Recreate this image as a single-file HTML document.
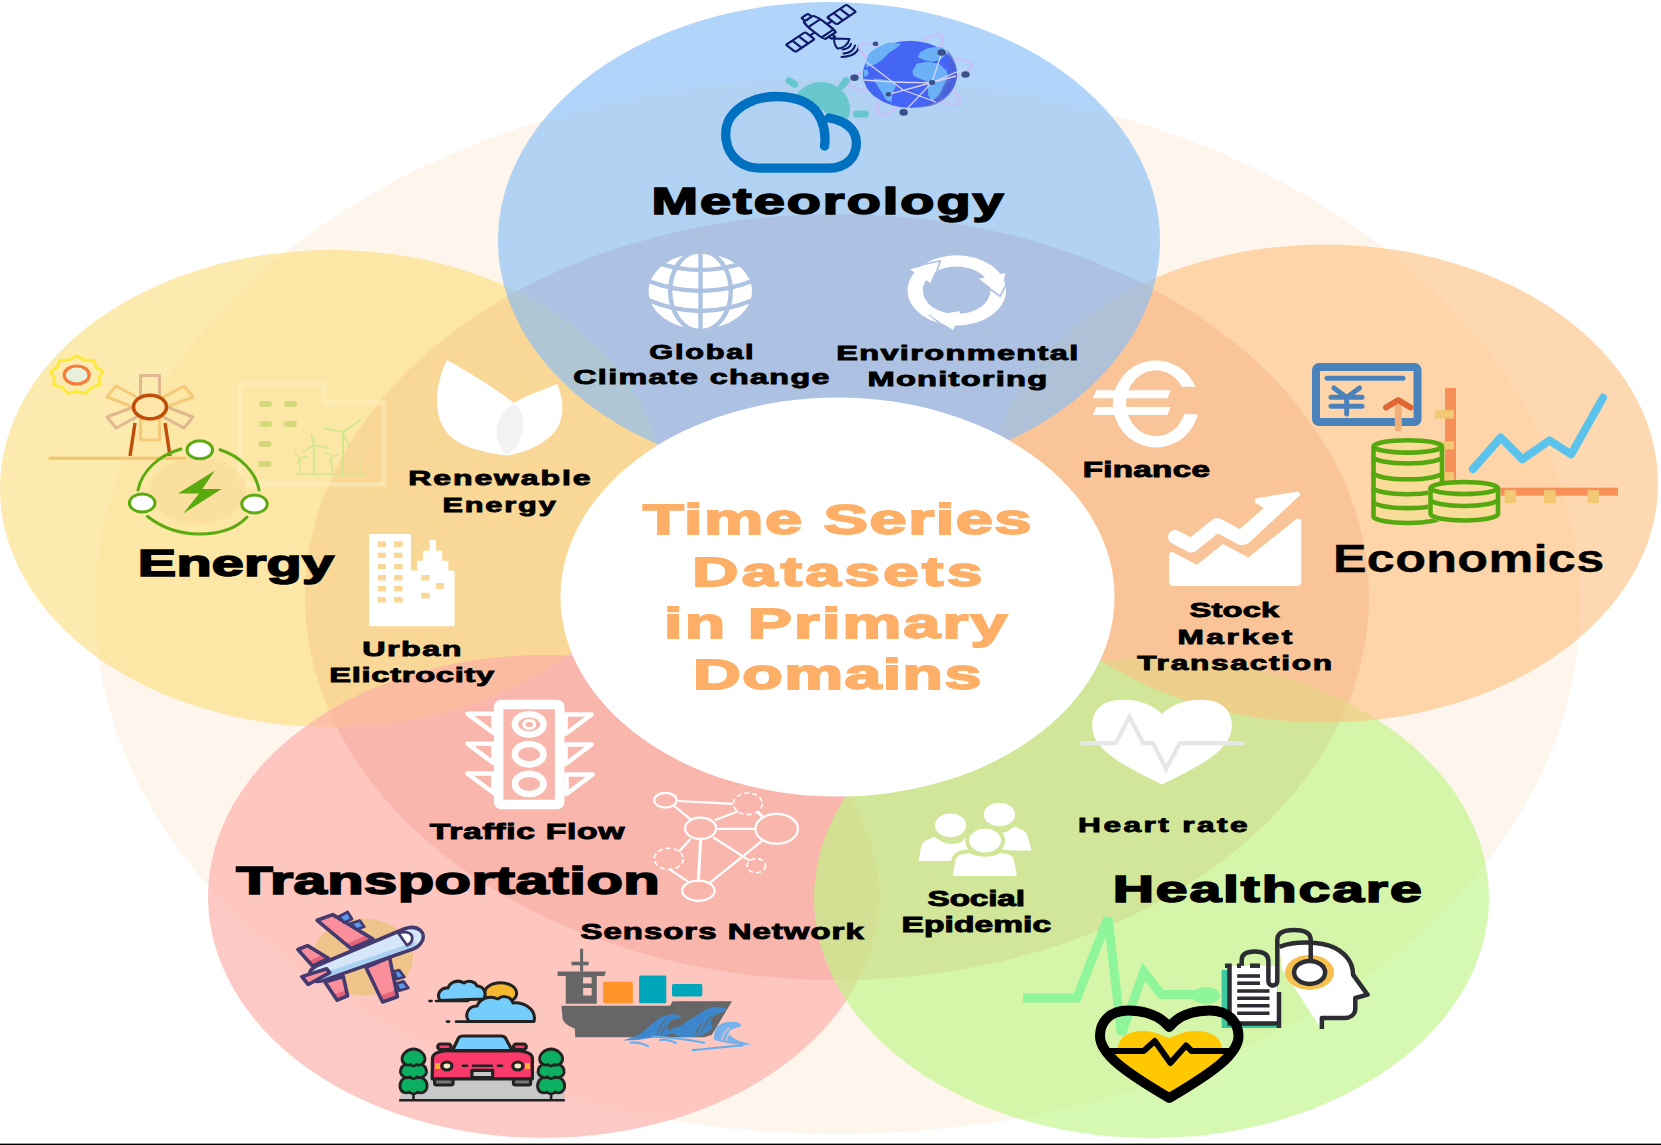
<!DOCTYPE html>
<html><head><meta charset="utf-8">
<style>
html,body{margin:0;padding:0;background:#fff;width:1661px;height:1145px;overflow:hidden}
svg{display:block}
text{font-family:"Liberation Sans",sans-serif;font-weight:bold}
</style></head>
<body>
<svg width="1661" height="1145" viewBox="0 0 1661 1145">
<rect width="1661" height="1145" fill="#fff"/>
<ellipse cx="837.5" cy="605.5" rx="742.5" ry="528.5" fill="#FEF5EC"/>
<ellipse cx="837" cy="597" rx="532" ry="383" fill="#F2C9BB"/>
<g>
<ellipse cx="331" cy="488.5" rx="331" ry="238.5" fill="#FCDF82" fill-opacity="0.65"/>
<ellipse cx="543.5" cy="896.5" rx="335.5" ry="241.5" fill="#FCACA6" fill-opacity="0.65"/>
<ellipse cx="1151.5" cy="898" rx="337.5" ry="240" fill="#BEF686" fill-opacity="0.65"/>
<ellipse cx="1325" cy="483.5" rx="333" ry="239" fill="#FCC386" fill-opacity="0.65"/>
<ellipse cx="829" cy="240.4" rx="331" ry="238.4" fill="#87BEF7" fill-opacity="0.65"/>
</g>
<ellipse cx="837.5" cy="597" rx="277" ry="199.5" fill="#fff"/>

<g id="met-icons">
<!-- satellite -->
<g transform="translate(820.9,28.3) scale(1.4,1) rotate(-43)" fill="none" stroke="#0F1A6B" stroke-width="1.9" stroke-linejoin="round">
  <rect x="-29.5" y="-4.9" width="18.7" height="9.8" rx="1.2"/>
  <line x1="-23.3" y1="-4.9" x2="-23.3" y2="4.9"/><line x1="-17" y1="-4.9" x2="-17" y2="4.9"/>
  <rect x="10.8" y="-4.9" width="18.7" height="9.8" rx="1.2"/>
  <line x1="17" y1="-4.9" x2="17" y2="4.9"/><line x1="23.3" y1="-4.9" x2="23.3" y2="4.9"/>
  <line x1="-10.8" y1="0" x2="-6" y2="0"/><line x1="6" y1="0" x2="10.8" y2="0"/>
  <rect x="-6" y="-7" width="12" height="14" rx="1.5"/>
  <path d="M-6,-7 L-5,-11.5 C-5,-12.5 -4.5,-13 -3.5,-13 L3.5,-13 C4.5,-13 5,-12.5 5,-11.5 L6,-7"/>
  <rect x="-3.2" y="-17" width="6.4" height="4" rx="1.2"/>
  <path d="M-6,7 L-5,10 L5,10 L6,7"/>
  <path d="M-2,10 L-1.5,13 L1.5,13 L2,10"/>
</g>
<g fill="none" stroke="#0F1A6B" stroke-width="2" stroke-linecap="round" stroke-linejoin="round">
  <path d="M834,38.5 L849.5,39 C848,45 843,48.5 837.5,48.5 C835,46 834,42.5 834,38.5 Z"/>
  <path d="M842.5,49.5 C847,49 850,47 851,44"/>
  <path d="M843.5,53.5 C850,53 854,50 855,45.5"/>
  <path d="M841.5,57 C852,56.5 858,53 859,46"/>
</g>
<!-- globe -->
<g>
  <g transform="translate(910,74.3) scale(1.4,1)" fill="none" stroke="#C6C2F7" stroke-width="2.4">
    <ellipse rx="46" ry="11" transform="rotate(40)"/>
    <ellipse rx="45" ry="13" transform="rotate(-12)"/>
    <ellipse rx="45" ry="11" transform="rotate(-62)"/>
  </g>
  <ellipse cx="910" cy="74.3" rx="47" ry="33.6" fill="#4565F5"/>
  <path d="M866.2,61.7 L868.8,53.8 L876.7,47.7 L888.9,42.5 L901.1,43.8 L895.9,48.6 L888.9,53 L881.9,59.9 L876.7,63.4 L871.4,66 L866.2,66.9 Z" fill="#6AB1F6"/>
  <path d="M863.6,70.4 L867,69 L868.8,74 L864.5,77.4 Z" fill="#6AB1F6"/>
  <path d="M873.2,78.3 L894.1,80.9 L895.9,86.1 L892.4,94 L891.5,101.9 L886.3,100.1 L881,91.4 L876.7,84.4 Z" fill="#6AB1F6"/>
  <path d="M917.7,57.3 L920.3,52.1 L927.3,48.6 L936.1,46.8 L943.1,47.7 L946.6,53.8 L940.4,59.9 L931.7,61.7 L923.8,59.9 Z" fill="#6AB1F6"/>
  <path d="M912.5,70.4 L916.9,63.4 L927.3,61.7 L938.7,63.4 L946.6,70.4 L949.2,80.9 L943.9,87.9 L940.4,96.6 L931.7,101.9 L928.2,94.9 L927.3,81.8 L918.6,78.3 L913.4,75.7 Z" fill="#6AB1F6"/>
  <path d="M946.6,49.5 C954,57 957,66 957,74.3 C957,88 948,99 936.1,104 C931,106 925,107.5 918,107.8 C930,104 940,97 943.1,86.1 C948,78 950,70 950,62 C949,57 948,53 946.6,49.5 Z" fill="#4F62D0" opacity="0.75"/>
  <g fill="none" stroke="#D9D4FA" stroke-width="1.3">
    <path d="M866.5,62 L903,90 L936,102"/>
    <path d="M864,80 C890,82 915,83 932,82.5 L956,76"/>
    <path d="M888.5,94.3 L932,82.5"/>
    <path d="M941.7,52.5 L932,82.5 L903.6,112.4"/>
    <path d="M932,82.5 L966,68"/>
  </g>
  <g fill="#3B4F8A">
    <ellipse cx="875.5" cy="43.8" rx="2.8" ry="2.3"/>
    <ellipse cx="854.5" cy="77.8" rx="4.2" ry="3.3"/>
    <ellipse cx="941.7" cy="52.5" rx="4.2" ry="3.3"/>
    <ellipse cx="965.5" cy="74.5" rx="4.2" ry="3.3"/>
    <ellipse cx="903.6" cy="112.4" rx="4.2" ry="3.3"/>
    <ellipse cx="932.1" cy="82.5" rx="3.2" ry="2.5"/>
    <ellipse cx="888.5" cy="94.3" rx="2.8" ry="2.2"/>
  </g>
</g>
<!-- sun + cloud -->
<defs>
  <mask id="cloudmask" maskUnits="userSpaceOnUse" x="0" y="0" width="1661" height="1145">
    <rect x="0" y="0" width="1661" height="1145" fill="#fff"/>
    <path d="M829,118 C822,104 800,96.5 776,96.5 C755,96.5 738,106 730,118 C723,130 724,150 738,161 C744,166 750,168.2 762,168.2 L828,168.2 C846,168.2 856.4,158 856.4,143 C856.4,129 845,120.5 829,118 Z" fill="#000"/>
  </mask>
</defs>
<g mask="url(#cloudmask)" fill="#67C7CC">
  <ellipse cx="821" cy="109" rx="29" ry="27"/>
  <rect x="785" y="79" width="14" height="7" rx="3.5" transform="rotate(32 792 82.5)"/>
  <rect x="837" y="80" width="14" height="7" rx="3.5" transform="rotate(-50 844 83.5)"/>
  <rect x="853" y="110.5" width="16" height="7" rx="3.5"/>
</g>
<path d="M824.5,146 C827,128 820,110 806,103 C795,97 785,96.5 776,96.5 C755,96.5 738,106 730,118 C723,130 724,150 738,161 C744,166 750,168.2 762,168.2 L828,168.2 C846,168.2 856.4,158 856.4,143 C856.4,129 845,120.5 829,118" fill="none" stroke="#0070C0" stroke-width="9.3" stroke-linecap="round" stroke-linejoin="round"/>
<!-- white globe -->
<g>
  <ellipse cx="700.3" cy="291.2" rx="51.7" ry="37.9" fill="#fff"/>
  <g fill="none" stroke="#AEC2E2" stroke-width="4.4">
    <line x1="700.5" y1="250" x2="700.5" y2="332"/>
    <ellipse cx="700.5" cy="291.2" rx="30.3" ry="40"/>
    <path d="M655,262 Q700.5,278 746,262"/>
    <path d="M646,280 Q700.5,302 755,280"/>
    <path d="M648,300 Q700.5,322 753,300"/>
  </g>
</g>
<!-- recycle arrows -->
<g>
  <ellipse cx="956.8" cy="290.4" rx="49.2" ry="35.1" fill="#fff"/><ellipse cx="956.6" cy="290.3" rx="33.8" ry="23.8" fill="#ADC2E2"/>
  <g stroke="#ADC2E2" stroke-width="1.7" fill="none" stroke-linejoin="miter">
    <polyline points="921,265 940.2,260.8 936.8,271.5"/>
    <polyline points="1007,283 1000.2,296.2 989.5,288.8"/>
    <polyline points="929.5,314.8 940.5,323.5"/>
  </g>
  <g fill="#fff">
    <polygon points="909.9,269.3 938.6,262.6 930.4,282.9"/>
    <polygon points="979,278.8 1005.6,273.1 999.6,294.5"/>
    <polygon points="960.7,311 930.5,316 953.2,330"/>
  </g>
</g>
</g>

<g id="energy-icons">
<!-- sun -->
<g>
  <polygon points="76.7,355.9 84.4,359.9 93.7,360.4 96.2,367.1 102.8,371.8 98.9,378.0 99.6,384.8 91.2,387.7 85.8,393.3 76.7,391.5 67.6,393.3 62.2,387.7 53.8,384.9 54.5,378.0 50.6,371.8 57.2,367.1 59.7,360.4 69.0,359.9" fill="none" stroke="#FBEA3A" stroke-width="3" stroke-linejoin="round"/>
  <ellipse cx="76.7" cy="375" rx="12.5" ry="9" fill="#E7F0D8" stroke="#F77C3A" stroke-width="3.2"/>
</g>
<!-- windmill -->
<g fill="none" stroke-width="3" stroke-linejoin="round">
  <rect x="140.5" y="375.5" width="19" height="20" stroke="#E0B78F"/>
  <rect x="140.5" y="419" width="19" height="21" stroke="#F4C978"/>
  <polygon points="107,397 116,386 142,400 136,408" stroke="#F4C978"/>
  <polygon points="107,417 116,428 142,414 136,406" stroke="#E0B78F"/>
  <polygon points="193,397 184,386 158,400 164,408" stroke="#F4C978"/>
  <polygon points="193,417 184,428 158,414 164,406" stroke="#E0B78F"/>
  <line x1="135" y1="423" x2="130" y2="456" stroke="#C04E0A" stroke-width="3.4"/>
  <line x1="165" y1="423" x2="170" y2="456" stroke="#C04E0A" stroke-width="3.4"/>
  <ellipse cx="150" cy="407" rx="16.5" ry="11.8" fill="#FDE6A8" stroke="#C04E0A" stroke-width="3.6"/>
</g>
<line x1="50" y1="458.2" x2="186" y2="458.2" stroke="#F5C46A" stroke-width="3" stroke-linecap="round"/>
<!-- faint building -->
<g opacity="0.55">
  <path d="M240,384.5 L324.5,384.5 L324.5,402.5 L384,402.5 L384,484.5 L240,484.5 Z" fill="none" stroke="#FDF0C0" stroke-width="4.5"/>
</g>
<g fill="#D5D87A">
  <rect x="259" y="401" width="13" height="6" rx="3"/><rect x="284" y="401" width="13" height="6" rx="3"/>
  <rect x="259" y="421" width="13" height="6" rx="3"/><rect x="284" y="421" width="13" height="6" rx="3"/>
  <rect x="258.5" y="441" width="13" height="6" rx="3"/>
  <rect x="258.5" y="461" width="13" height="6" rx="3"/>
</g>
<g stroke="#CFE68A" fill="none" stroke-width="1.5" opacity="0.9">
  <line x1="295" y1="474" x2="366" y2="474"/>
  <line x1="314" y1="445" x2="314" y2="474" stroke-width="2"/>
  <path d="M314,445 L311,434 M314,445 L303,452 M314,445 L329,448" stroke-width="1.8"/>
  <line x1="343" y1="432" x2="343" y2="474" stroke-width="2.2"/>
  <path d="M343,432 L323,428 M343,432 L361,420 M343,432 L349,447" stroke-width="2"/>
  <line x1="300" y1="458" x2="300" y2="474"/>
  <path d="M300,458 L294,453 M300,458 L307,456 M300,458 L297,465"/>
  <line x1="332" y1="456" x2="332" y2="474"/>
  <path d="M332,456 L326,452 M332,456 L339,455 M332,456 L329,463"/>
  <line x1="361" y1="458" x2="361" y2="474" opacity="0.6"/>
</g>
<!-- green circuit -->
<ellipse cx="198" cy="490.8" rx="48" ry="33.6" fill="#FADD9E" opacity="0.8"/>
<g fill="none" stroke="#5BAA0F" stroke-width="3" stroke-linecap="round">
  <path d="M181,449 C160,455 142,470 138,490"/>
  <path d="M220,449.8 C240,456 256,472 259,490"/>
  <path d="M147.5,516.5 C165,530 182,534 199,534 C218,534 236,529 247,517"/>
</g>
<g fill="#fff" stroke="#5BAA0F" stroke-width="3">
  <ellipse cx="199.8" cy="449.8" rx="12.8" ry="9"/>
  <ellipse cx="142.2" cy="503" rx="12.8" ry="9"/>
  <ellipse cx="254.5" cy="504" rx="12.8" ry="9"/>
</g>
<polygon points="214.7,470.8 178,493.5 199,493.5 183.2,513.6 221.7,489.1 202.4,489.1" fill="#5AA90F"/>
<!-- leaf -->
<g>
  <path d="M447,360 C470,373 495,388 514,403 C530,415 528,440 507,455.5 C480,452 452,446 442,425 C433,405 437,380 447,360 Z" fill="#fff"/>
  <path d="M557,384 C540,391 525,396 514,403 C490,420 490,440 507,455.5 C530,452 552,440 559,425 C565,410 562,395 557,384 Z" fill="#fff"/>
  <path d="M514,403 C528,414 527,440 507,455.5 C492,440 492,418 514,403 Z" fill="#F2F2F2"/>
</g>
<!-- building -->
<path fill="#fff" fill-rule="evenodd" d="M369.1,534.1 L410.9,534.1 L410.9,570.6 L417.2,570.6 L417.2,560.7 L423,560.7 L423,550.7 L429.7,550.7 L429.7,539.9 L436,539.9 L436,550.7 L442.2,550.7 L442.2,560.7 L448.3,560.7 L448.3,570.6 L454.6,570.6 L454.6,626.3 L369.1,626.3 Z
M377.8,541.3 h8.1 v5.6 h-8.1 Z M394.1,541.3 h8.5 v5.6 h-8.5 Z
M377.8,552.7 h8.1 v5.4 h-8.1 Z M394.1,552.7 h8.5 v5.4 h-8.5 Z
M377.8,563.7 h8.1 v5.5 h-8.1 Z M394.1,563.7 h8.5 v5.5 h-8.5 Z
M377.8,575 h8.1 v5.4 h-8.1 Z M394.1,575 h8.5 v5.4 h-8.5 Z
M377.8,586 h8.1 v5.5 h-8.1 Z M394.1,586 h8.5 v5.5 h-8.5 Z
M377.8,597 h8.1 v5.6 h-8.1 Z M394.1,597 h8.5 v5.6 h-8.5 Z
M421.3,575 h8.3 v5.4 h-8.3 Z M435.9,583.1 h8.1 v5.8 h-8.1 Z M421.3,592.7 h8.3 v5.8 h-8.3 Z"/>
</g>

<g id="econ-icons">
<!-- euro -->
<g fill="#fff">
  <path d="M1195.5,386.7 A43,43.5 0 1 0 1197.8,414.2 L1184.3,414.2 A30,33 0 1 1 1182,386.7 Z"/>
  <polygon points="1096.4,390.2 1170.6,390.2 1167.5,398.2 1092.9,398.2"/>
  <polygon points="1096.4,407 1170.6,407 1167.5,415 1092.9,415"/>
</g>
<!-- chart -->
<g fill="#fff">
  <path d="M1169.1,555.1 C1169.5,552 1171,551.5 1173,552.3 L1197,564.8 L1222.9,544.1 L1248.4,557.5 L1296.4,519.1 C1299,518 1301.3,519 1301.3,522 L1301.3,582 C1301.3,584.5 1299,585.9 1296.4,585.9 L1174.4,585.9 C1171,585.9 1169.1,584.5 1169.1,582 Z"/>
  <path d="M1175,537 L1191.5,545.5 L1217,525 L1241.5,538" fill="none" stroke="#fff" stroke-width="14" stroke-linecap="round" stroke-linejoin="round"/>
  <polygon points="1237,531.5 1263.8,508.1 1254.8,502.2 1255.5,498.5 1298,491.5 1300.8,494.5 1248.4,543.2 1244,545"/>
</g>
<!-- finance colour icon -->
<g>
  <rect x="1316" y="367" width="101.5" height="55" rx="3" fill="none" stroke="#4A82BC" stroke-width="8"/>
  <line x1="1327" y1="378.3" x2="1403" y2="378.3" stroke="#4A82BC" stroke-width="5" stroke-linecap="round"/>
  <g stroke="#4A82BC" stroke-width="5" stroke-linecap="round" fill="none">
    <polyline points="1334,388 1346.7,397.5 1359.5,388"/>
    <line x1="1331" y1="397.3" x2="1362" y2="397.3"/>
    <line x1="1331" y1="406.3" x2="1362" y2="406.3"/>
    <line x1="1346.7" y1="397.5" x2="1346.7" y2="414"/>
  </g>
  <line x1="1398.3" y1="404" x2="1398.3" y2="428" stroke="#F0B27A" stroke-width="7" stroke-linecap="round"/>
  <polyline points="1386,407.5 1398.3,400 1410.5,407.5" fill="none" stroke="#E06632" stroke-width="6" stroke-linecap="round" stroke-linejoin="round"/>
  <rect x="1445" y="388" width="11" height="104" fill="#F79058"/>
  <rect x="1456" y="487.7" width="162" height="8" fill="#F79058"/>
  <g fill="#F2C873">
    <rect x="1435" y="410.2" width="19" height="8.4"/>
    <rect x="1435" y="441.4" width="19" height="8"/>
    <rect x="1435" y="472.2" width="19" height="8.4"/>
    <rect x="1504.6" y="490.1" width="11.6" height="13"/>
    <rect x="1544" y="490.1" width="11.7" height="13"/>
    <rect x="1587.5" y="490.1" width="11.5" height="13"/>
  </g>
  <polyline points="1473,469 1500.7,437.5 1522.5,459.3 1549.4,440.4 1571.2,454.3 1603,397.7" fill="none" stroke="#5BC2EC" stroke-width="8" stroke-linecap="round" stroke-linejoin="round"/>
  <!-- tall coin stack -->
  <g stroke="#55A80D" stroke-width="4.6" fill="#F9DB9A">
    <path d="M1373.5,446.4 L1373.5,516.5 A34.2,6.5 0 0 0 1442,516.5 L1442,446.4 Z" stroke="none"/>
    <ellipse cx="1407.7" cy="446.4" rx="34.2" ry="6.2"/>
    <path d="M1373.5,446.4 L1373.5,516.5 A34.2,6.5 0 0 0 1442,516.5 L1442,446.4" fill="none"/>
    <path d="M1373.5,457 A34.2,6.5 0 0 0 1442,457" fill="none"/>
    <path d="M1373.5,472.8 A34.2,6.5 0 0 0 1442,472.8" fill="none"/>
    <path d="M1373.5,487.7 A34.2,6.5 0 0 0 1442,487.7" fill="none"/>
    <path d="M1373.5,501.6 A34.2,6.5 0 0 0 1442,501.6" fill="none"/>
  </g>
  <!-- short stack (with bg halo) -->
  <g stroke="#55A80D" stroke-width="4.6" fill="#F9DB9A">
    <path d="M1430.5,488 L1430.5,514 A33.7,6.5 0 0 0 1498,514 L1498,488 Z" stroke="#FDD2A8" stroke-width="5"/>
    <path d="M1430.5,488 L1430.5,514 A33.7,6.5 0 0 0 1498,514 L1498,488 Z" stroke="none"/>
    <ellipse cx="1464.2" cy="488" rx="33.7" ry="6"/>
    <path d="M1430.5,488 L1430.5,514 A33.7,6.5 0 0 0 1498,514 L1498,488" fill="none"/>
    <path d="M1430.5,499.5 A33.7,6.5 0 0 0 1498,499.5" fill="none"/>
  </g>
</g>
</g>
</g>

<g id="health-icons">
<!-- white heart with pulse -->
<path d="M1162,714 C1148,700 1125,697 1108,702 C1092,708 1089,725 1095,738 C1103,755 1130,769 1162,784.4 C1194,769 1221,755 1229,738 C1235,725 1232,708 1216,702 C1199,697 1176,700 1162,714 Z" fill="#fff"/>
<polyline points="1080.3,743.2 1115.8,743.2 1129.5,716.9 1143.2,743.2 1152.9,743.2 1166.1,768.9 1179.8,743.2 1244.4,743.2" fill="none" stroke="#E6E6E6" stroke-width="4.2" stroke-linejoin="miter"/>
<!-- people -->
<defs>
<mask id="pplmask" maskUnits="userSpaceOnUse" x="900" y="790" width="150" height="100">
  <rect x="900" y="790" width="150" height="100" fill="#fff"/>
  <g fill="#000" stroke="#000" stroke-width="8">
    <ellipse cx="985.1" cy="840.6" rx="16" ry="11.8"/>
    <path d="M952.8,876 L955.6,859.5 C957,855 962,853.5 969.7,853.2 C975,856 980,856.7 985.1,856.7 C990,856.7 995,856 1000,853.2 C1008,853.5 1013,855 1013.8,859.5 L1016.9,876 Z"/>
  </g>
  <g fill="#000" stroke="#000" stroke-width="4">
    <path d="M940,838 C945,841 948,842 950.5,842 C955,842 960,841 963,838"/>
    <path d="M990,827 C994,830 997,831 999.4,831 C1003,831 1007,830 1010,827"/>
  </g>
</mask>
</defs>
<g fill="#fff" mask="url(#pplmask)">
  <ellipse cx="950.5" cy="825.3" rx="15.6" ry="11.9"/>
  <path d="M918.6,861 L921,847 C922,842 926,840 933,837.5 L935,837.5 C940,840.5 945,842 950.5,842 C956,842 961,840.5 966,837.5 C972,840 977,842 979,847 L982,861 Z"/>
  <ellipse cx="999.4" cy="814.5" rx="15.7" ry="11.8"/>
  <path d="M967,850.4 L970,836 C971,831 975,829 982,826.8 L984,826.8 C989,830 994,831 999.4,831 C1005,831 1010,830 1014.5,826.8 C1021,829 1026,831 1027.5,836 L1031.5,850.4 Z"/>
</g>
<ellipse cx="985.1" cy="840.6" rx="16" ry="11.8" fill="#fff"/>
<path d="M952.8,876 L955.6,859.5 C957,855 962,853.5 969.7,853.2 C975,856 980,856.7 985.1,856.7 C990,856.7 995,856 1000,853.2 C1008,853.5 1013,855 1013.8,859.5 L1016.9,876 Z" fill="#fff"/>
<!-- green pulse -->
<g fill="none" stroke="#8EF59A" stroke-width="9" stroke-linejoin="miter">
  <polyline points="1022.9,998 1076.8,998 1108,918 1121.4,1034 1143.7,972 1161.5,994.6 1203.8,994.6"/>
</g>
<ellipse cx="1206" cy="995.5" rx="14" ry="8.5" fill="#8EF59A"/>
<!-- document -->
<rect x="1221.6" y="970" width="55.7" height="58" fill="#3CC8A0"/>
<rect x="1230.5" y="966" width="46.5" height="59" fill="#fff"/>
<g fill="none" stroke="#2B2D33" stroke-width="4.5">
  <polyline points="1225,965.7 1229.5,965.7 1229.5,1023.5 1277,1023.5"/>
  <line x1="1237" y1="965.7" x2="1241" y2="965.7"/>
  <line x1="1279" y1="992" x2="1279" y2="1028"/>
  <line x1="1250" y1="965.7" x2="1260" y2="965.7"/>
</g>
<g stroke="#2B2D33" stroke-width="3.6">
  <line x1="1237.2" y1="976" x2="1260" y2="976"/>
  <line x1="1237.2" y1="983.2" x2="1260" y2="983.2"/>
  <line x1="1237.2" y1="991" x2="1269.5" y2="991"/>
  <line x1="1237.2" y1="998.3" x2="1269.5" y2="998.3"/>
  <line x1="1237.2" y1="1005.8" x2="1269.5" y2="1005.8"/>
  <line x1="1237.2" y1="1013.2" x2="1269.5" y2="1013.2"/>
</g>
<!-- head -->
<path d="M1279.5,946.8 C1295,941 1320,941 1335,948 C1348,955 1353,965 1353,974.6 L1367.5,994.6 L1355.3,998 L1355.3,1009 C1355,1015 1350,1018 1344.2,1018 L1321.9,1018 L1321.9,1028 L1320.8,1028 L1282,969 Z" fill="#fff"/>
<path d="M1279.5,946.8 C1295,941 1320,941 1335,948 C1348,955 1353,965 1353,974.6 L1367.5,994.6 L1355.3,998 L1355.3,1009 C1355,1015 1350,1018 1344.2,1018 L1321.9,1018 L1321.9,1029" fill="none" stroke="#2B2D33" stroke-width="4.5" stroke-linejoin="round"/>
<ellipse cx="1309.6" cy="972.4" rx="24.5" ry="17.5" fill="#F5C050"/>
<ellipse cx="1309.6" cy="972.4" rx="15.5" ry="11.5" fill="#fff" stroke="#2B2D33" stroke-width="4.5"/>
<path d="M1241.7,965.7 L1241.7,960 C1241.7,954 1247,951.5 1255,951.5 C1263,951.5 1268.4,954 1268.4,961 L1268.4,981 C1268.4,987 1277.3,987 1277.3,981 L1277.3,940 C1277.3,933 1284,930 1294,930 C1304,930 1310.7,933 1310.7,940 L1310.7,961" fill="none" stroke="#2B2D33" stroke-width="4.5" stroke-linecap="butt"/>
<!-- black heart -->
<defs><clipPath id="heartclip"><path d="M1169.3,1027 C1160,1016 1145,1010.5 1128,1010.5 C1110,1010.5 1100,1022 1100,1036 C1100,1054 1125,1072 1169.3,1098 C1213.5,1072 1238.5,1054 1238.5,1036 C1238.5,1022 1228,1010.5 1210,1010.5 C1193,1010.5 1178,1016 1169.3,1027 Z"/></clipPath></defs>
<g clip-path="url(#heartclip)" fill="#FFC800">
<rect x="1095" y="1049" width="150" height="60"/>
<path d="M1118,1049 C1118,1038 1128,1031 1143,1031 C1156,1031 1162,1036 1169,1038 C1176,1036 1182,1031 1196,1031 C1211,1031 1222,1038 1222,1049 Z"/>
</g>
<path d="M1169.3,1027 C1160,1016 1145,1010.5 1128,1010.5 C1110,1010.5 1100,1022 1100,1036 C1100,1054 1125,1072 1169.3,1098 C1213.5,1072 1238.5,1054 1238.5,1036 C1238.5,1022 1228,1010.5 1210,1010.5 C1193,1010.5 1178,1016 1169.3,1027 Z" fill="none" stroke="#000" stroke-width="10" stroke-linejoin="round"/>
<polyline points="1109,1051 1143.7,1051 1154.8,1041 1170.4,1063 1186,1045.5 1191.6,1051 1230.5,1051" fill="none" stroke="#000" stroke-width="6" stroke-linejoin="round" stroke-linecap="round"/>
</g>

<g id="transport-icons">
<!-- traffic light -->
<g fill="none" stroke="#fff">
  <rect x="498.7" y="704.5" width="61" height="100" rx="2.5" stroke-width="9.5"/>
  <ellipse cx="529.2" cy="724.4" rx="14.3" ry="10.2" stroke-width="6.5"/>
  <ellipse cx="529.2" cy="724.4" rx="5.4" ry="4" stroke-width="3"/>
  <ellipse cx="529.2" cy="754.2" rx="14.3" ry="10.2" stroke-width="6.5"/>
  <ellipse cx="529.2" cy="783.9" rx="14.3" ry="10.2" stroke-width="6.5"/>
  <g stroke-width="4.6" stroke-linejoin="round">
    <polygon points="467.5,713.7 493.5,713.7 493.5,733"/>
    <polygon points="467.5,743.7 493.5,743.7 493.5,763"/>
    <polygon points="467.5,773.5 493.5,773.5 493.5,793"/>
    <polygon points="591.5,714.5 565.5,714.5 565.5,734"/>
    <polygon points="591.5,744.5 565.5,744.5 565.5,764"/>
    <polygon points="592.5,774.5 566.5,774.5 566.5,794"/>
  </g>
</g>
<!-- network -->
<g fill="none" stroke="#fff" stroke-width="2.2">
  <line x1="677.9" y1="801" x2="732.4" y2="803.8"/>
  <line x1="673.4" y1="805.5" x2="690.4" y2="819.2"/>
  <line x1="714.8" y1="820.3" x2="738.1" y2="811.2"/>
  <line x1="757.4" y1="811.8" x2="762.5" y2="816.3" stroke-width="3"/>
  <line x1="717.7" y1="828.8" x2="754.6" y2="828.8"/>
  <line x1="690.4" y1="839" x2="679.1" y2="851.5"/>
  <line x1="700.6" y1="840.2" x2="698.4" y2="879.9" stroke-width="3"/>
  <line x1="713.1" y1="837.3" x2="749.5" y2="860.6"/>
  <line x1="762" y1="840.8" x2="709.7" y2="882.8"/>
  <line x1="670" y1="869.7" x2="688.2" y2="881.6"/>
  <ellipse cx="665.4" cy="800.2" rx="11.2" ry="7.4"/>
  <ellipse cx="700.6" cy="828.3" rx="15.6" ry="10.6"/>
  <ellipse cx="776.7" cy="828.8" rx="21.3" ry="14.9"/>
  <ellipse cx="698.4" cy="890.7" rx="16.2" ry="10.1"/>
  <g stroke-dasharray="5 3" stroke-width="1.6">
    <ellipse cx="747.8" cy="803.8" rx="14.5" ry="10.8"/>
    <ellipse cx="668.8" cy="858.9" rx="14.5" ry="10.6"/>
    <ellipse cx="756.3" cy="865.7" rx="9.2" ry="7"/>
  </g>
</g>
<!-- plane -->
<ellipse cx="363" cy="957" rx="50" ry="38.5" fill="#EFC48A"/>
<g fill="#FA8F9B">
  <polygon points="317.1,920.3 332.8,914.6 373,939.1 351.1,948.7"/>
  <polygon points="366,967.4 389.6,957.4 397.4,996.7 382.6,1002"/>
  <polygon points="297.9,949.5 307.5,945.6 328.4,958.3 312.7,966.1"/>
  <polygon points="324.9,981.9 343.3,976.6 347.6,995.8 337.2,1000.2"/>
</g>
<g fill="#E5647A">
  <polygon points="347.5,943.5 367.5,934.8 373,939.1 351.1,948.7"/>
  <polygon points="309,961 324,954 328.4,958.3 312.7,966.1"/>
  <polygon points="380,995.5 396,990 397.4,996.7 382.6,1002"/>
  <polygon points="335,994.5 346.3,990 347.6,995.8 337.2,1000.2"/>
</g>
<g stroke="#453A70" stroke-width="3.6" stroke-linejoin="round" fill="none">
  <polygon points="317.1,920.3 332.8,914.6 373,939.1 351.1,948.7"/>
  <polygon points="366,967.4 389.6,957.4 397.4,996.7 382.6,1002"/>
  <polygon points="297.9,949.5 307.5,945.6 328.4,958.3 312.7,966.1"/>
  <polygon points="324.9,981.9 343.3,976.6 347.6,995.8 337.2,1000.2"/>
</g>
<g stroke="#453A70" stroke-width="3.6" stroke-linejoin="round">
  <polygon points="338.9,916.4 347.6,912 352,919 344.1,922.5" fill="#5C9CF0" stroke-width="2.8"/>
  <polygon points="351.1,923.3 359.9,920.7 364.2,926.8 356.4,929.5" fill="#5C9CF0" stroke-width="2.8"/>
  <polygon points="394.4,971.4 399.2,970.1 404.4,977 396.6,979.2" fill="#5C9CF0" stroke-width="2.8"/>
  <polygon points="396.6,983.6 403.5,981.4 408.3,988 399.2,990.6" fill="#5C9CF0" stroke-width="2.8"/>
  <path d="M316,966 L404,929 C418,924 428,933 421,943 C419,946 416,948 413,949 L321,981 C312,983 307,976 311,970 Z" fill="#D4E6F7"/>
  <path d="M414,946.5 L321,979.5 C316,981 313,979 312,977 L416,941.5 Z" fill="#A8D0F0" stroke="none"/>
  <path d="M398.3,933 C404,931 410,932 412,936 C413,941 410,944 407,945.2 Z" fill="#fff" stroke-width="2.8"/>
  <polygon points="301.8,976.6 326.7,968.8 329.7,972.7 308.3,984.5" fill="#FA8F9B"/>
</g>
<!-- clouds + sun -->
<g stroke="#222" stroke-width="3" stroke-linejoin="round">
  <ellipse cx="500.6" cy="993.2" rx="16" ry="10.5" fill="#F7B731"/>
  <path d="M440,1000.5 C436,994 441,987 448,988 C450,982 458,979 464,983 C468,980 475,981 477,986 C483,986 487,992 484,999 Z" fill="#74CDFB"/>
  <path d="M469,1021.5 C464,1015 468,1006 477,1006 C480,998 490,995 498,999 C502,995 511,996 513,1003 C522,1002 537,1008 534,1021.5 Z" fill="#74CDFB"/>
</g>
<g stroke="#222" stroke-width="2.6" stroke-linecap="round">
  <line x1="429.5" y1="1001" x2="431.5" y2="1001"/>
  <line x1="436" y1="1001" x2="468" y2="1001"/>
  <line x1="447" y1="1021.6" x2="449" y2="1021.6"/>
  <line x1="456" y1="1021.6" x2="470" y2="1021.6"/>
</g>
<!-- car -->
<rect x="400.4" y="1071.5" width="163.8" height="28" fill="#C8C8C8"/>
<line x1="399.2" y1="1100.2" x2="564.8" y2="1100.2" stroke="#222" stroke-width="2.6"/>
<g stroke="#222" stroke-width="3.2" stroke-linejoin="round">
  <rect x="434.6" y="1075" width="18.4" height="10" rx="2" fill="#777"/>
  <rect x="513.5" y="1075" width="17.1" height="10" rx="2" fill="#777"/>
  <rect x="437.7" y="1044" width="13.4" height="5.5" rx="2.7" fill="#FA3A6A"/>
  <rect x="513.5" y="1044" width="12.8" height="5.5" rx="2.7" fill="#FA3A6A"/>
  <path d="M432.5,1058 C433,1053 440,1050.7 452,1050.7 L512,1050.7 C524,1050.7 532,1053 532.4,1058 L532.4,1078.8 L432.2,1078.8 Z" fill="#FA3A6A"/>
  <path d="M452.4,1050.7 L458.5,1038 C459.5,1036.5 461,1036 463,1036 L501,1036 C503,1036 504.5,1036.5 505.5,1038 L512.3,1050.7 Z" fill="#74CDFB"/>
  <rect x="471.9" y="1070.3" width="20.8" height="7.3" fill="#C8C8C8"/>
  <ellipse cx="446.9" cy="1066" rx="5" ry="4" fill="#FCEBC0"/>
  <ellipse cx="517.8" cy="1066" rx="5" ry="4" fill="#FCEBC0"/>
</g>
<g fill="#F7B731"><rect x="435" y="1063" width="5" height="6"/><rect x="525" y="1063" width="5" height="6"/></g>
<g stroke="#222" stroke-width="2.6" stroke-linecap="round"><line x1="463" y1="1065.8" x2="467" y2="1065.8"/><line x1="473" y1="1065.8" x2="492" y2="1065.8"/><line x1="498" y1="1065.8" x2="502" y2="1065.8"/></g>
<line x1="413.5" y1="1090" x2="413.5" y2="1099" stroke="#222" stroke-width="2.6"/>
<g stroke="#222" stroke-width="2.8" fill="#0CAF60">
  <path d="M400.0,1087 C399.5,1081 403.5,1077 408.5,1077.5 C410.5,1075 416.5,1075 418.5,1077.5 C423.5,1077 427.5,1081 427.0,1087 C426.5,1092 421.5,1094 417.5,1092 C415.5,1094.5 411.5,1094.5 409.5,1092 C405.5,1094 400.5,1092 400.0,1087 Z"/>
  <path d="M400.5,1072.5 C400.0,1067 404.5,1063.5 409.0,1064 C411.0,1062 416.0,1062 418.0,1064 C422.5,1063.5 427.0,1067 426.5,1072.5 C425.5,1077 420.5,1078.5 417.0,1077 C415.0,1079 412.0,1079 410.0,1077 C406.5,1078.5 401.5,1077 400.5,1072.5 Z"/>
  <path d="M402.0,1059.5 C401.5,1054 407.5,1049 413.5,1049 C419.5,1049 425.5,1054 425.0,1059.5 C424.5,1064 419.5,1066 416.5,1064.5 C415.0,1066.5 412.0,1066.5 410.5,1064.5 C407.5,1066 402.5,1064 402.0,1059.5 Z"/>
</g>
<line x1="551.1" y1="1090" x2="551.1" y2="1099" stroke="#222" stroke-width="2.6"/>
<g stroke="#222" stroke-width="2.8" fill="#0CAF60">
  <path d="M537.6,1087 C537.1,1081 541.1,1077 546.1,1077.5 C548.1,1075 554.1,1075 556.1,1077.5 C561.1,1077 565.1,1081 564.6,1087 C564.1,1092 559.1,1094 555.1,1092 C553.1,1094.5 549.1,1094.5 547.1,1092 C543.1,1094 538.1,1092 537.6,1087 Z"/>
  <path d="M538.1,1072.5 C537.6,1067 542.1,1063.5 546.6,1064 C548.6,1062 553.6,1062 555.6,1064 C560.1,1063.5 564.6,1067 564.1,1072.5 C563.1,1077 558.1,1078.5 554.6,1077 C552.6,1079 549.6,1079 547.6,1077 C544.1,1078.5 539.1,1077 538.1,1072.5 Z"/>
  <path d="M539.6,1059.5 C539.1,1054 545.1,1049 551.1,1049 C557.1,1049 563.1,1054 562.6,1059.5 C562.1,1064 557.1,1066 554.1,1064.5 C552.6,1066.5 549.6,1066.5 548.1,1064.5 C545.1,1066 540.1,1064 539.6,1059.5 Z"/>
</g>
<!-- ship -->
<g fill="#666">
  <path d="M561.4,1005.7 L670.1,1005.7 L672.6,1001.3 L732,1001.3 L711.8,1034.8 L704.2,1037.3 L575.3,1037.3 L574.7,1028.5 C568,1026 563,1022 562.6,1018.4 Z"/>
  <path fill-rule="evenodd" d="M565.8,976 L565.8,1003.8 L596.8,1003.8 L596.8,976 L604.4,976 L606,971.6 L557.6,971.6 L557.6,976 Z M583.1,977.3 h8.6 v6.3 h-8.6 Z M583.1,988 h8.6 v7.6 h-8.6 Z"/>
  <rect x="580.1" y="948.8" width="3" height="23"/>
  <rect x="571.5" y="961.7" width="17.1" height="3.6"/>
</g>
<rect x="603.1" y="981.7" width="29.7" height="21.5" rx="1.5" fill="#FF9428"/>
<rect x="639.1" y="975.4" width="27.2" height="27.8" rx="1.5" fill="#00A6B9"/>
<rect x="672" y="984" width="30.3" height="12.6" rx="1.5" fill="#00A6B9"/>
<g fill="#3A8AD6" opacity="0.9">
  <path d="M622.9,1040.6 C630,1038 636,1036 641.2,1033.2 C648,1028 652,1023 656.9,1020.1 C661,1017 666,1014.5 670.9,1014.4 C675,1014 679,1014.5 680.5,1016.5 C680,1018.5 678,1019 676.1,1018.8 C672,1019.5 669.5,1021.5 669.1,1023.6 C668,1026 667,1027.5 667.4,1028.8 C669,1031 672,1032 674.4,1032.3 C670,1034 667,1035.5 663.9,1035.8 C655,1037 645,1039 638,1040 Z"/>
  <path d="M670,1030 C672,1028.5 675,1027.5 677.9,1027.1 C684,1024 688,1020 693.6,1017.5 C701,1012 707,1008 715.4,1007 C719,1006.5 724,1007 726.5,1009.6 C725,1012 722,1012.5 719.8,1013.1 C715,1015 712,1017 711.1,1020.1 C710.5,1023 711,1025.5 712.8,1027.9 C709,1031 706,1033 702.3,1034.9 C695,1037 688,1037.5 681.4,1036.7 C676,1036 672,1033 670,1030 Z"/>
  <path d="M713.7,1039.3 C714,1034 715,1029 717.2,1026.2 C722,1023 727,1021.5 732.9,1021.8 C737,1022 740.5,1023 741.3,1025.3 C740,1027.5 737.5,1027.5 735.5,1027.9 C731,1029 729,1031 728.5,1033.2 C730,1036 734,1038.5 737.3,1040.2 C742,1042 747,1043 751.2,1044.5 C745,1045.5 738,1045 730,1043.5 C723,1042 717,1041 713.7,1039.3 Z" fill="#6AB0F2"/>
</g>
<g fill="none" stroke="#666" stroke-width="1.3" stroke-linecap="round" opacity="0.9">
  <path d="M657,1034 C659,1028 662,1023 666,1020"/>
  <path d="M661,1035 C662,1031 664,1027 667,1025"/>
  <path d="M700,1033 C704,1027 707,1021 711,1017"/>
  <path d="M696,1034 C697,1030 699,1026 702,1023"/>
</g>
<g fill="none" stroke="#FFC8C4" stroke-width="1.2" stroke-linecap="round" opacity="0.8">
  <path d="M722,1040 C723,1035 725,1031 729,1028"/>
  <path d="M726,1041 C727,1037 728,1034 731,1032"/>
</g>
<g fill="none" stroke="#62AEF0" stroke-width="2" stroke-linecap="round">
  <path d="M630.7,1042.8 C638,1042 644,1044 648.2,1046.3"/>
  <path d="M652.6,1036.7 C670,1037 690,1040 704.1,1042.8"/>
  <path d="M692.7,1050.2 C710,1049 728,1046 742.5,1045.4"/>
  <path d="M660,1040 C665,1039 672,1041 676,1043"/>
</g>
</g>

<g id="labels"><text transform="translate(651.41,214.34) scale(1.551,1)" font-size="36.0" letter-spacing="1.311" fill="#000" stroke="#000" stroke-width="1.529">Meteorology</text>
<text transform="translate(649.29,358.58) scale(1.5476,1)" font-size="19.85" letter-spacing="1.131" fill="#000" stroke="#000" stroke-width="0.843">Global</text>
<text transform="translate(573.16,384.36) scale(1.5497,1)" font-size="20.81" letter-spacing="0.894" fill="#000" stroke="#000" stroke-width="0.884">Climate change</text>
<text transform="translate(836.18,360.06) scale(1.5512,1)" font-size="20.95" letter-spacing="0.882" fill="#000" stroke="#000" stroke-width="0.89">Environmental</text>
<text transform="translate(867.46,385.95) scale(1.5512,1)" font-size="21.08" letter-spacing="0.783" fill="#000" stroke="#000" stroke-width="0.895">Monitoring</text>
<text transform="translate(408.3,485.46) scale(1.5492,1)" font-size="20.67" letter-spacing="1.207" fill="#000" stroke="#000" stroke-width="0.878">Renewable</text>
<text transform="translate(442.46,511.68) scale(1.5485,1)" font-size="19.85" letter-spacing="1.177" fill="#000" stroke="#000" stroke-width="0.843">Energy</text>
<text transform="translate(137.82,576.21) scale(1.5503,1)" font-size="37.1" letter-spacing="0.153" fill="#000" stroke="#000" stroke-width="1.576">Energy</text>
<text transform="translate(362.21,655.66) scale(1.5526,1)" font-size="20.81" letter-spacing="0.963" fill="#000" stroke="#000" stroke-width="0.884">Urban</text>
<text transform="translate(329.27,681.55) scale(1.5506,1)" font-size="21.08" letter-spacing="0.446" fill="#000" stroke="#000" stroke-width="0.895">Elictrocity</text>
<text transform="translate(1082.64,476.75) scale(1.5509,1)" font-size="21.36" letter-spacing="0.222" fill="#000" stroke="#000" stroke-width="0.907">Finance</text>
<text transform="translate(1189.47,617.15) scale(1.5514,1)" font-size="21.08" letter-spacing="0.119" fill="#000" stroke="#000" stroke-width="0.895">Stock</text>
<text transform="translate(1177.42,643.67) scale(1.5499,1)" font-size="20.4" letter-spacing="1.672" fill="#000" stroke="#000" stroke-width="0.866">Market</text>
<text transform="translate(1137.32,669.57) scale(1.549,1)" font-size="20.4" letter-spacing="1.134" fill="#000" stroke="#000" stroke-width="0.866">Transaction</text>
<text transform="translate(1332.88,572.21) scale(1.3257,1)" font-size="37.96" letter-spacing="0.27" fill="#000" stroke="#000" stroke-width="0.385">Economics</text>
<text transform="translate(429.84,839.44) scale(1.548,1)" font-size="21.77" letter-spacing="0.44" fill="#000" stroke="#000" stroke-width="0.924">Traffic Flow</text>
<text transform="translate(236.3,893.58) scale(1.5491,1)" font-size="38.47" letter-spacing="0.313" fill="#000" stroke="#000" stroke-width="1.634">Transportation</text>
<text transform="translate(580.47,939.35) scale(1.5496,1)" font-size="21.22" letter-spacing="0.679" fill="#000" stroke="#000" stroke-width="0.901">Sensors Network</text>
<text transform="translate(1078.12,831.57) scale(1.5503,1)" font-size="20.4" letter-spacing="1.566" fill="#000" stroke="#000" stroke-width="0.866">Heart rate</text>
<text transform="translate(927.57,905.84) scale(1.552,1)" font-size="21.49" letter-spacing="-0.113" fill="#000" stroke="#000" stroke-width="0.913">Social</text>
<text transform="translate(901.62,932.14) scale(1.5509,1)" font-size="21.63" letter-spacing="0.039" fill="#000" stroke="#000" stroke-width="0.919">Epidemic</text>
<text transform="translate(1112.65,902.02) scale(1.5501,1)" font-size="36.83" letter-spacing="1.229" fill="#000" stroke="#000" stroke-width="1.564">Healthcare</text>
<text transform="translate(642.97,534.09) scale(1.552,1)" font-size="42.99" letter-spacing="0.977" fill="#FDAF67" stroke="#FDAF67" stroke-width="1.826">Time Series</text>
<text transform="translate(692.21,585.92) scale(1.5506,1)" font-size="41.21" letter-spacing="2.187" fill="#FDAF67" stroke="#FDAF67" stroke-width="1.75">Datasets</text>
<text transform="translate(664.1,638.19) scale(1.5474,1)" font-size="42.71" letter-spacing="1.43" fill="#FDAF67" stroke="#FDAF67" stroke-width="1.814">in Primary</text>
<text transform="translate(692.99,688.79) scale(1.5488,1)" font-size="42.71" letter-spacing="0.973" fill="#FDAF67" stroke="#FDAF67" stroke-width="1.814">Domains</text></g>
<rect x="0" y="1143.6" width="1661" height="1.4" fill="#000"/>
</svg>
</body></html>
